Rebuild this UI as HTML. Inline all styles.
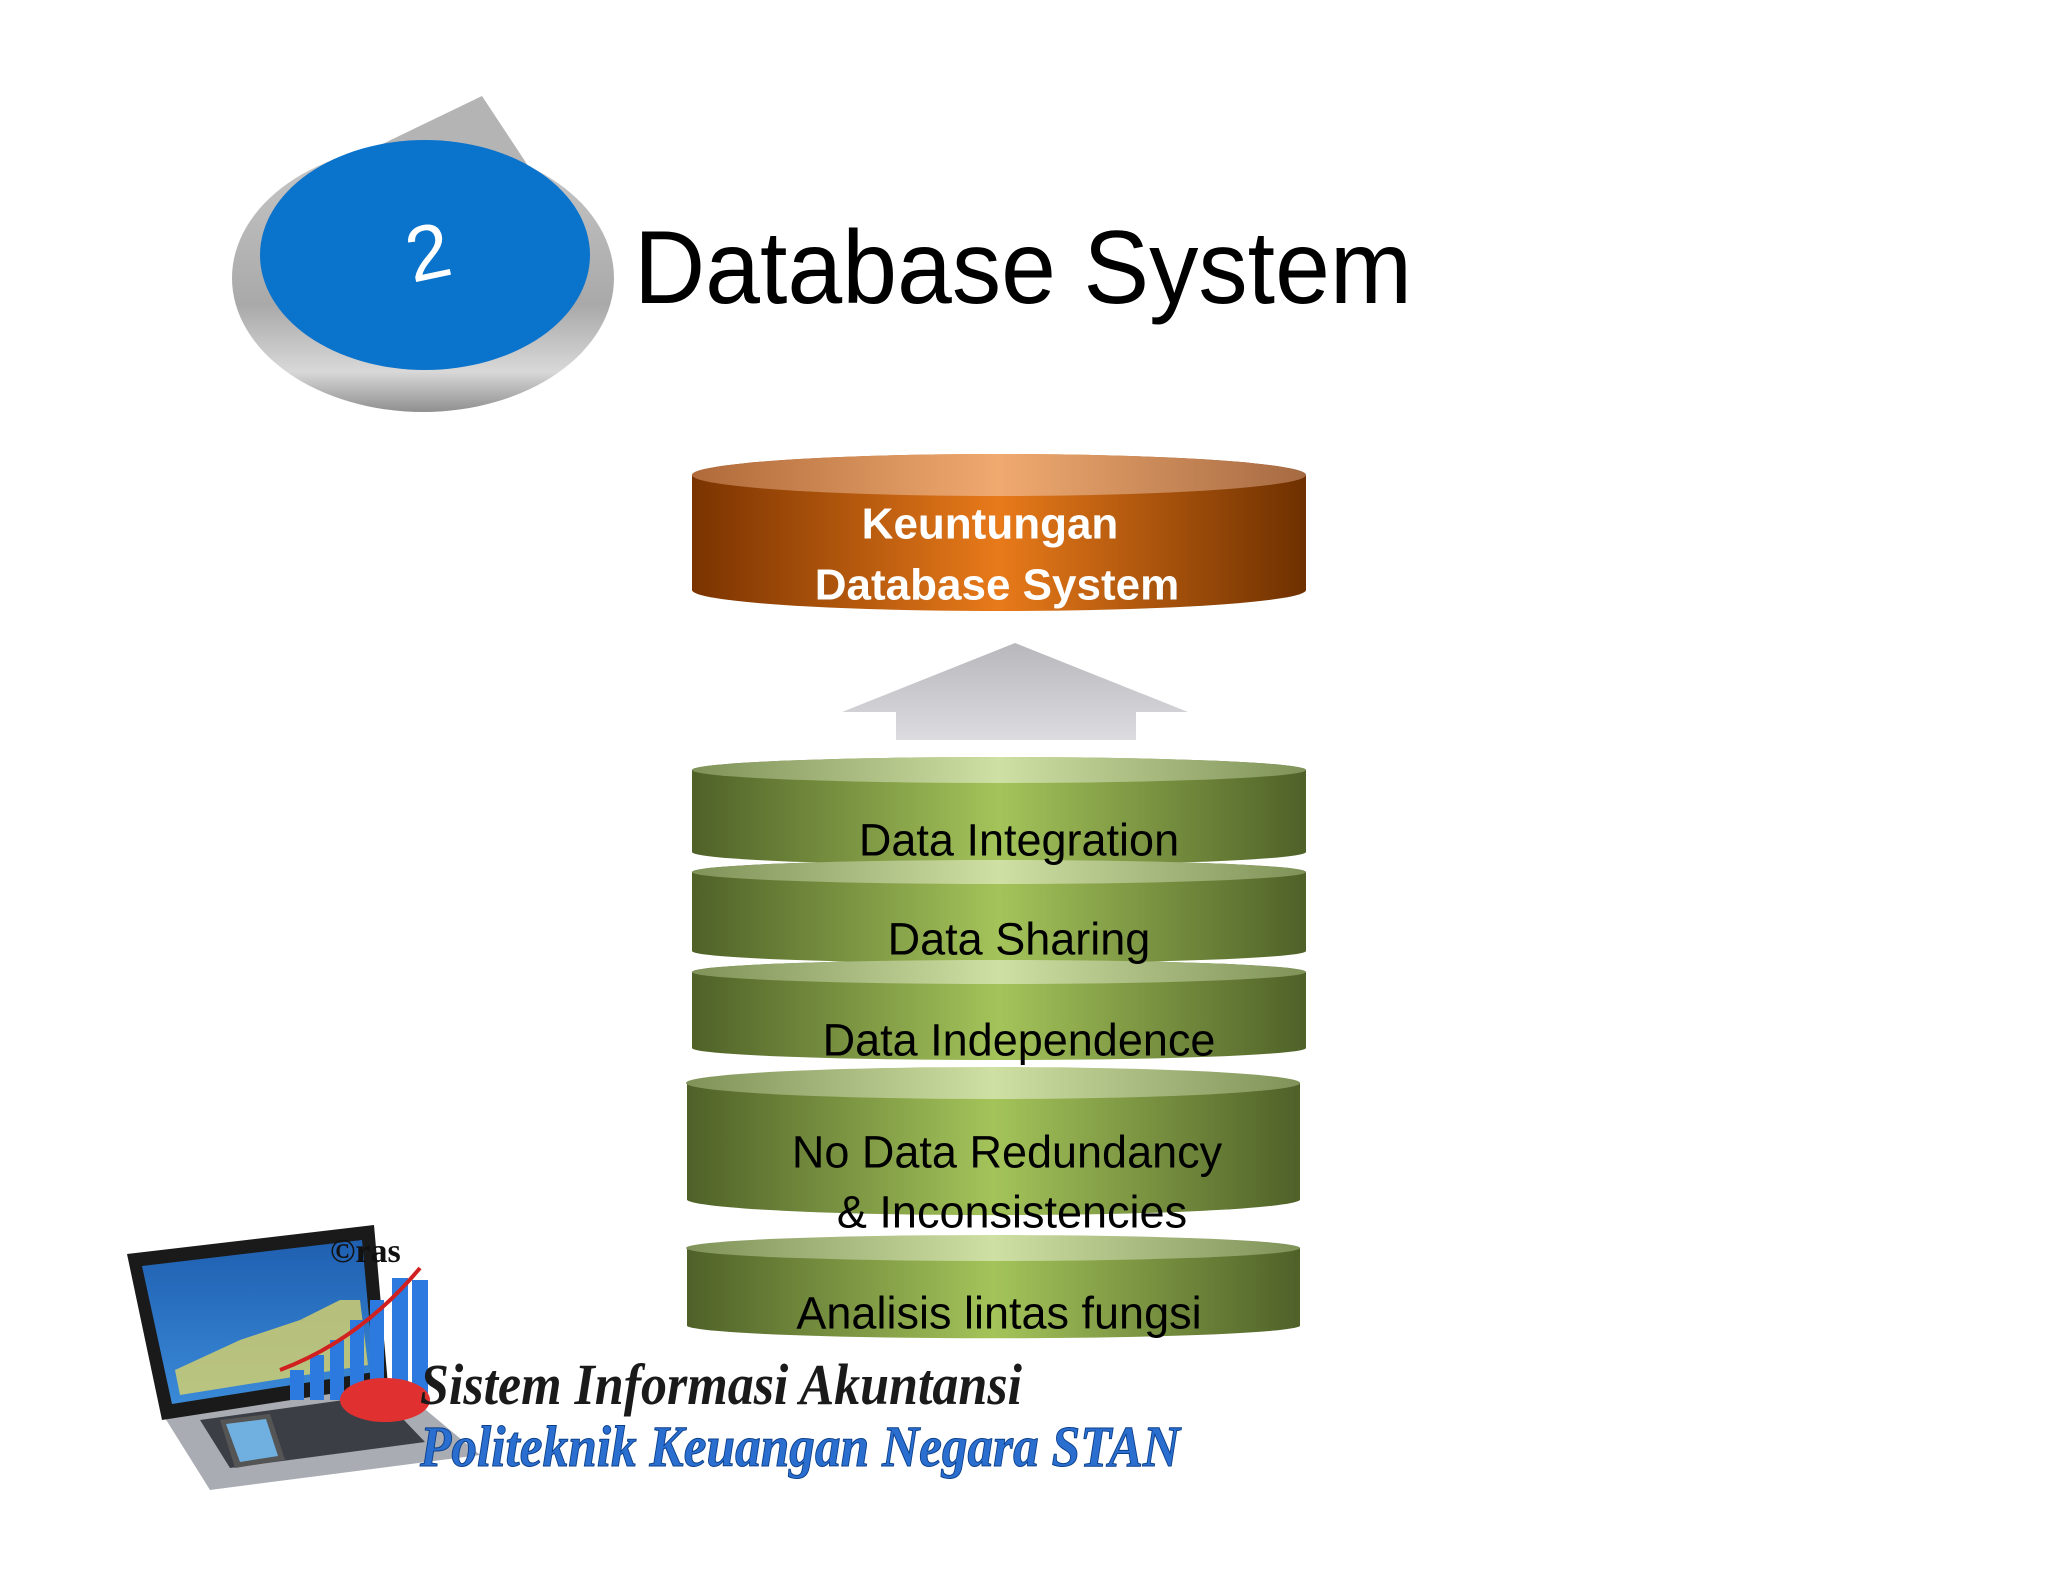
<!DOCTYPE html>
<html><head><meta charset="utf-8"><style>
html,body{margin:0;padding:0;background:#fff;width:2048px;height:1582px;overflow:hidden}
svg{display:block}
</style></head><body>
<svg width="2048" height="1582" viewBox="0 0 2048 1582" xmlns="http://www.w3.org/2000/svg">
<defs>
<linearGradient id="gray" x1="0" y1="0" x2="0" y2="1">
<stop offset="0" stop-color="#c8c8c8"/><stop offset="0.6" stop-color="#a9a9a9"/><stop offset="0.85" stop-color="#d8d8d8"/><stop offset="1" stop-color="#8f8f8f"/></linearGradient>
<linearGradient id="og" x1="0" y1="0" x2="1" y2="0">
<stop offset="0" stop-color="#7a3300"/><stop offset="0.5" stop-color="#e87a1a"/><stop offset="1" stop-color="#6e3000"/></linearGradient>
<linearGradient id="ogt" x1="0" y1="0" x2="1" y2="0">
<stop offset="0" stop-color="#b06a3a"/><stop offset="0.5" stop-color="#f0aa70"/><stop offset="1" stop-color="#a66a42"/></linearGradient>
<linearGradient id="gg" x1="0" y1="0" x2="1" y2="0">
<stop offset="0" stop-color="#4f6128"/><stop offset="0.5" stop-color="#a4c45a"/><stop offset="1" stop-color="#4f6128"/></linearGradient>
<linearGradient id="ggt" x1="0" y1="0" x2="1" y2="0">
<stop offset="0" stop-color="#7f9258"/><stop offset="0.5" stop-color="#cfe0a4"/><stop offset="1" stop-color="#7f9258"/></linearGradient>
<linearGradient id="ar" x1="0" y1="0" x2="0" y2="1">
<stop offset="0" stop-color="#b8b8bc"/><stop offset="1" stop-color="#dcdce0"/></linearGradient>
<linearGradient id="scr" x1="0" y1="0" x2="0" y2="1">
<stop offset="0" stop-color="#1f5fb0"/><stop offset="1" stop-color="#3a8ad8"/></linearGradient>
</defs>

<!-- badge -->
<polygon points="482,96 370,150 610,290" fill="#b4b4b4"/>
<ellipse cx="423" cy="278" rx="191" ry="134" fill="url(#gray)"/>
<ellipse cx="425" cy="255" rx="165" ry="115" fill="#0a73cc"/>
<text x="428" y="252" font-family="Liberation Sans, sans-serif" font-size="78" fill="#fff" text-anchor="middle" dominant-baseline="central" transform="rotate(-12 428 252)">2</text>

<text x="634" y="303" font-family="Liberation Sans, sans-serif" font-size="104" fill="#000" textLength="778" lengthAdjust="spacingAndGlyphs">Database System</text>

<!-- orange cylinder -->
<path d="M692,475 A307,21 0 0 1 1306,475 L1306,590 A307,21 0 0 1 692,590 Z" fill="url(#og)"/>
<ellipse cx="999" cy="475" rx="307" ry="21" fill="url(#ogt)"/>
<g font-family="Liberation Sans, sans-serif" font-size="44" font-weight="bold" fill="#fff" text-anchor="middle" dominant-baseline="central">
<text x="990" y="524">Keuntungan</text>
<text x="997" y="585">Database System</text>
</g>

<!-- arrow -->
<polygon points="1015,643 1188,712 1136,712 1136,740 896,740 896,712 842,712" fill="url(#ar)"/>

<!-- green cylinders -->
<g>
<path d="M692,770 A307,13 0 0 1 1306,770 L1306,852 A307,13 0 0 1 692,852 Z" fill="url(#gg)"/>
<ellipse cx="999" cy="770" rx="307" ry="13" fill="url(#ggt)"/>
<path d="M692,872 A307,12 0 0 1 1306,872 L1306,951 A307,12 0 0 1 692,951 Z" fill="url(#gg)"/>
<ellipse cx="999" cy="872" rx="307" ry="12" fill="url(#ggt)"/>
<path d="M692,972 A307,12 0 0 1 1306,972 L1306,1048 A307,12 0 0 1 692,1048 Z" fill="url(#gg)"/>
<ellipse cx="999" cy="972" rx="307" ry="12" fill="url(#ggt)"/>
<path d="M687,1083 A307,16 0 0 1 1300,1083 L1300,1200 A307,16 0 0 1 687,1200 Z" fill="url(#gg)"/>
<ellipse cx="993" cy="1083" rx="307" ry="16" fill="url(#ggt)"/>
<path d="M687,1248 A307,13 0 0 1 1300,1248 L1300,1326 A307,13 0 0 1 687,1326 Z" fill="url(#gg)"/>
<ellipse cx="993" cy="1248" rx="307" ry="13" fill="url(#ggt)"/>
</g>
<g font-family="Liberation Sans, sans-serif" font-size="45" fill="#000" text-anchor="middle" dominant-baseline="central">
<text x="1019" y="840">Data Integration</text>
<text x="1019" y="939">Data Sharing</text>
<text x="1019" y="1040">Data Independence</text>
<text x="1007" y="1152">No Data Redundancy</text>
<text x="1012" y="1212">&amp; Inconsistencies</text>
<text x="999" y="1313">Analisis lintas fungsi</text>
</g>

<!-- laptop logo -->
<polygon points="160,1410 390,1380 480,1455 210,1490" fill="#a9adb3"/>
<polygon points="200,1420 380,1395 425,1442 230,1468" fill="#3b3f45"/>
<polygon points="127,1254 374,1225 388,1385 162,1420" fill="#1a1a1a"/>
<polygon points="142,1266 362,1240 374,1372 172,1404" fill="url(#scr)"/>
<polygon points="175,1370 240,1340 300,1320 340,1300 360,1300 368,1365 180,1395" fill="#d9d36a" opacity="0.8"/>
<text x="330" y="1262" font-family="Liberation Serif, serif" font-size="34" font-weight="bold" fill="#111">©ras</text>
<g fill="#2c7ae0">
<rect x="290" y="1370" width="14" height="30"/><rect x="310" y="1355" width="14" height="45"/><rect x="330" y="1340" width="14" height="60"/><rect x="350" y="1320" width="14" height="80"/><rect x="370" y="1300" width="14" height="100"/><rect x="392" y="1278" width="16" height="122"/><rect x="412" y="1280" width="16" height="120"/>
</g>
<path d="M280,1370 Q360,1340 420,1268" stroke="#d02020" stroke-width="4" fill="none"/>
<ellipse cx="385" cy="1400" rx="45" ry="22" fill="#e03030"/>
<polygon points="220,1420 270,1414 285,1460 235,1468" fill="#555"/>
<polygon points="226,1424 266,1419 278,1456 240,1462" fill="#6fb0e0"/>

<g font-family="Liberation Serif, serif" font-style="italic" font-weight="bold">
<text x="420" y="1404" font-size="58" fill="#1a1a1a" textLength="602" lengthAdjust="spacingAndGlyphs">Sistem Informasi Akuntansi</text>
<text x="420" y="1466" font-size="58" fill="#2a6fd0" stroke="#0b3f8a" stroke-width="1" textLength="760" lengthAdjust="spacingAndGlyphs">Politeknik Keuangan Negara STAN</text>
</g>
</svg>
</body></html>
